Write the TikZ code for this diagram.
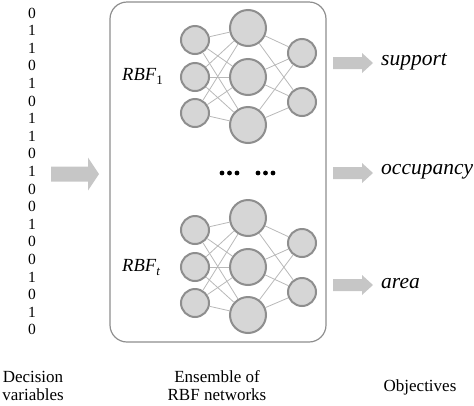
\documentclass[tikz,border=0pt]{standalone}
\usepackage{fontspec}
\setmainfont{Liberation Serif}
\usepackage{tikz}
\usetikzlibrary{positioning}
\usetikzlibrary{backgrounds}
\definecolor{cellfill}{HTML}{D6D6D6}
\definecolor{celledge}{HTML}{8E8E8E}
\definecolor{linkgray}{HTML}{B8B8B8}
\definecolor{arrowgray}{HTML}{C6C6C6}
\tikzset{basic cell/.style={draw=celledge,
                            line width=2pt,
                            fill=cellfill,
                            circle,
                            inner sep=0pt}}
\tikzset{small cell/.style={basic cell,minimum size=28pt}}
\tikzset{big cell/.style={basic cell,minimum size=36pt}}
\tikzset{link/.style={draw=linkgray,line width=0.8pt}}
\tikzset{fat arrow/.style={fill=arrowgray}}
\newcommand{\blockarrow}[5]{% x, y, length, half shaft, half head
  \fill [fat arrow] (#1,#2-#4) -- ++(#3-11,0) -- (#1+#3-11,#2-#5) -- (#1+#3,#2)
  -- (#1+#3-11,#2+#5) -- (#1+#3-11,#2+#4) -- (#1,#2+#4) -- cycle;}
\newcommand{\netname}[1]{\textit{RBF}\raisebox{-4pt}{\fontsize{13}{13}\selectfont #1}}

\begin{document}
\begin{tikzpicture}
      [
      x=1pt,y=-1pt,
      bit/.style={inner sep=0pt,font=\fontsize{15.5}{15.5}\selectfont},
      caption/.style={align=center,inner sep=0pt,font=\fontsize{17}{18}\selectfont},
      objective/.style={anchor=west,inner sep=0pt,font=\fontsize{21.5}{21.5}\selectfont\itshape},
      net label/.style={anchor=west,inner sep=0pt,font=\fontsize{18.5}{18.5}\selectfont},
      ]
      \useasboundingbox (0,0) rectangle (474,405);

      % decision variables
      \foreach \b [count=\k] in {0,1,1,0,1,0,1,1,0,1,0,0,1,0,0,1,0,1,0}
      {
      \node [bit] (B\k) at (32,{13+(\k-1)*17.6}) {\b};
      }

      % ensemble box
      \node [draw=celledge,line width=1.2pt,rounded corners=17pt,
      minimum width=216pt,minimum height=340pt] (box) at (218,172) {};

      % networks
      \foreach \n/\dy in {1/0,t/190}
      {
      \foreach \i/\y in {1/40,2/77,3/113}
      \node [small cell] (I\n\i) at (195,{\y+\dy}) {};
      \foreach \j/\y in {1/28,2/77,3/125}
      \node [big cell] (H\n\j) at (248,{\y+\dy}) {};
      \foreach \o/\y in {1/53,2/102}
      \node [small cell] (O\n\o) at (302,{\y+\dy}) {};
      \foreach \i in {1,2,3}
      \foreach \j in {1,2,3}
      \path [link] (I\n\i) -- (H\n\j);
      \foreach \j in {1,2,3}
      \foreach \o in {1,2}
      \path [link] (H\n\j) -- (O\n\o);
      }

      \node [net label] (rbf1) at (122,76) {\netname{1}};
      \node [net label] (rbft) at (122,268) {\netname{\itshape t}};

      % dots
      \foreach \x in {222,229.5,237,258,265.5,273}
      \fill (\x,173) circle (2.4pt);

      % arrows
      \blockarrow{51}{174}{48}{7.5}{16.5}
      \foreach \y in {63,173,285}
      {\blockarrow{333}{\y}{40}{6}{10}}

      % objectives
      \node [objective] (obj1) at (381,62) {support};
      \node [objective] (obj2) at (381,172) {occupancy};
      \node [objective] (obj3) at (381,284) {area};

      % captions
      \node [caption] (dv) at (33,386) {Decision\\variables};
      \node [caption] (ens) at (217,386) {Ensemble of\\RBF networks};
      \node [caption] (objs) at (420,387) {Objectives};

    \end{tikzpicture}
\end{document}
